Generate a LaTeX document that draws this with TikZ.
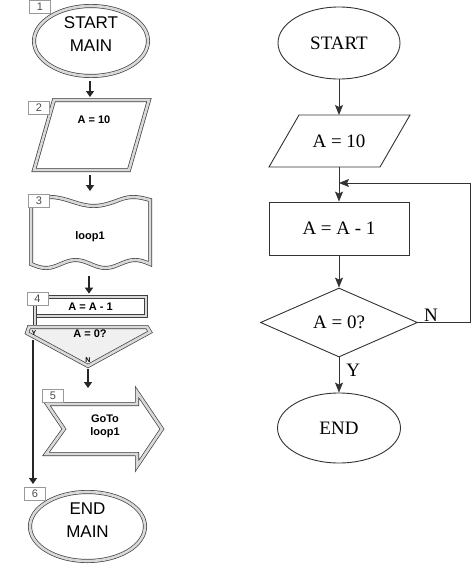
\documentclass[tikz,border=0pt]{standalone}
\usepackage{fontspec}
\setmainfont{Liberation Serif}
\newfontfamily\arial{Liberation Sans}
\usetikzlibrary{shapes.geometric,arrows.meta,positioning}

\begin{document}
\begin{tikzpicture}[x=1pt,y=-1pt,
    frame/.style={draw=black!75, double=gray!30, double distance=2.6pt, line width=0.7pt},
    numbox/.style={draw=gray!80, fill=white, line width=0.6pt, inner sep=0pt,
      minimum width=21pt, minimum height=13pt, text=black!70, font=\arial\fontsize{11}{12}\selectfont},
    big/.style={font=\arial\fontsize{17}{23}\selectfont, align=center},
    lbl/.style={font=\arial\bfseries\fontsize{11}{13}\selectfont, align=center},
    tiny/.style={font=\arial\bfseries\fontsize{7}{8}\selectfont, inner sep=0pt},
    larr/.style={line width=1.3pt, draw=black!85, -{Triangle[length=6pt,width=8pt]}},
    rline/.style={draw=black!80, line width=0.9pt},
    rarr/.style={rline, -{Stealth[length=10pt,width=8pt,inset=2pt]}},
    rtxt/.style={font=\fontsize{19}{22}\selectfont},
  ]
  \useasboundingbox (0,0) rectangle (474,571);

  % left: the program as drawn in the editor
  \node[frame, ellipse, minimum width=114pt, minimum height=70pt] (smain) at (91,41) {};
  \node[big] (smaintxt) at (91,34) {START\\MAIN};
  \node[numbox] (n1) at (40,7) {1};

  \draw[frame] (54,100) -- (149,100) -- (129,170) -- (34,170) -- cycle;
  \node[lbl] (p2) at (94,120) {A = 10};
  \node[numbox] (n2) at (39,107.5) {2};

  \draw[frame] (31,201) sin (50,197) cos (72,201.5) sin (94,206) cos (115,201.5) sin (133,197) cos (150,200)
    -- (150,264) sin (135.1,260) cos (120.2,264) sin (105.4,268) cos (90.5,264)
    sin (75.6,260) cos (60.8,264) sin (45.9,268) cos (31,264) -- cycle;
  \node[lbl] (b3) at (90,237) {loop1};
  \node[numbox] (n3) at (39,201) {3};

  \node[frame, lbl, minimum width=111pt, minimum height=19pt, inner sep=0pt] (b4) at (90.5,306.5) {A = A - 1};
  \draw[frame] (35,305) -- (35,326);
  \draw[frame, fill=gray!12] (29,327) -- (147,327) -- (150,332) -- (88,366) -- (27,333) -- cycle;
  \node[lbl] (q4) at (90,334) {A = 0?};
  \node[tiny] (q4y) at (34,333) {Y};
  \node[tiny] (q4n) at (88,360) {N};
  \node[numbox] (n4) at (37.5,299) {4};

  \draw[frame] (47,404) -- (137,404) -- (137,392) -- (162,429) -- (137,466) -- (137,454)
    -- (46,454) -- (64,429) -- cycle;
  \node[lbl] (b5) at (105,426.5) {GoTo\\loop1};
  \node[numbox] (n5) at (53,396) {5};

  \node[frame, ellipse, minimum width=115pt, minimum height=69pt] (emain) at (87.5,526.5) {};
  \node[big] (emaintxt) at (87.5,520) {END\\MAIN};
  \node[numbox] (n6) at (35,493.5) {6};

  \coordinate (p2top) at (90,97);
  \coordinate (p2bot) at (90,170);
  \coordinate (w3top) at (90,191);
  \coordinate (w3bot) at (89,276);
  \coordinate (q4bot) at (88,369);
  \coordinate (b5top) at (88,388);
  \coordinate (q4left) at (33,340);
  \coordinate (yend) at (33,484);

  \draw[larr, shorten <=5pt] (smain.south -| p2top) -- (p2top);
  \draw[larr, shorten <=5pt] (p2bot) -- (w3top);
  \draw[larr, shorten >=3pt] (w3bot) -- (w3bot |- b4.north);
  \draw[larr] (q4bot) -- (b5top);
  \draw[larr] (q4left) -- (yend);

  % right: the same program as a plain flowchart
  \node[rline, rtxt, ellipse, minimum width=122pt, minimum height=72pt, inner sep=0pt] (start) at (339,43) {START};
  \draw[rline] (299,115) -- (410,115) -- (380,167) -- (269,167) -- cycle;
  \node[rtxt] (init) at (339,141) {A = 10};
  \node[rline, rtxt, minimum width=140pt, minimum height=53pt] (dec) at (339,228.5) {A = A - 1};
  \node[rline, rtxt, diamond, aspect=2.3, minimum width=157pt, minimum height=69pt, inner sep=0pt] (test) at (339,322.5) {A = 0?};
  \node[rline, rtxt, ellipse, minimum width=123pt, minimum height=70pt, inner sep=0pt] (stop) at (339,428) {END};
  \coordinate (inittop) at (339,115);
  \coordinate (initbot) at (339,167);
  \coordinate (loopin) at (339,183);
  \coordinate (rturn) at (470,183);

  \draw[rarr] (start) -- (inittop);
  \draw[rarr] (initbot) -- (dec);
  \draw[rarr] (dec) -- (test);
  \draw[rarr] (test) -- node[rtxt, right=7pt, inner sep=0pt, pos=0.36] {Y} (stop);
  \draw[rarr] (test.east) -- node[rtxt, above, inner sep=0.5pt, pos=0.25] {N} (rturn |- test.east)
    -- (rturn) -- (loopin);
\end{tikzpicture}
\end{document}
